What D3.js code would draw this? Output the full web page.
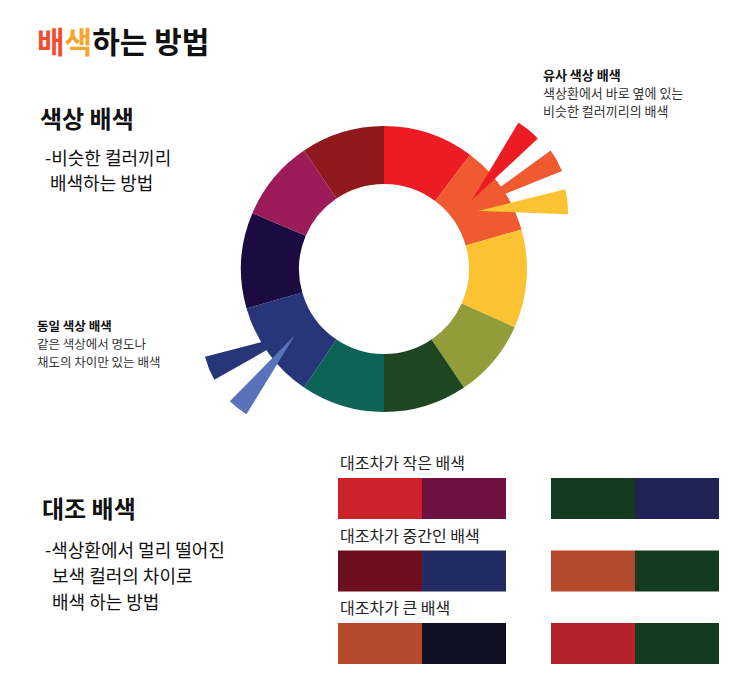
<!DOCTYPE html><html><head><meta charset="utf-8"><script src="https://cdn.jsdelivr.net/npm/d3@7"></script>
<style>body{margin:0;background:#fff}text{font-family:"Noto Sans CJK KR",sans-serif}</style></head><body><svg id="c" width="742" height="677"></svg>
<script>
const wheelSpans=[37,37,40,32,34,34,40,39,33,34];
const wheelColors=["#ED1C24","#F05A30","#FBC232","#929D3A","#1E4620","#0D6356","#263679","#1C0B40","#9B1C59","#8E1A1D"];
const wedgeAngles=[39,61,84,248,218];
const wedgeLengths=[90,96,90,95,93];
const wedgeWidths=[16,14,16,15,13];
const wedgeInner=[0,0,0,20,0];
const wedgeColors=["#ED1C24","#F05A30","#FBC232","#263679","#5A72BA"];
const wedgeTips=[[472,200],[473,207],[478,211],[297,333],[295,335]];
const rowLabels=["대조차가 작은 배색","대조차가 중간인 배색","대조차가 큰 배색"];
const pairColors=[[["#CC2229","#6F1140"],["#143A1F","#1F2355"]],[["#6B0F1E","#232B63"],["#B5492B","#143A1F"]],[["#B5492B","#110F22"],["#B4232B","#143A1F"]]];

const svg=d3.select("#c");
const rad=d3.scaleLinear().domain([0,360]).range([0,2*Math.PI]);
const pie=d3.pie().sort(null).value(d=>d)(wheelSpans);
const arc=d3.arc().innerRadius(85).outerRadius(143);
const g=svg.append("g").attr("transform","translate(384,269)");
g.selectAll("path").data(pie).join("path").attr("d",arc).attr("fill",(d,i)=>wheelColors[i]);
wedgeAngles.forEach((a,i)=>{
  const w=wedgeWidths[i];
  svg.append("path").attr("transform",`translate(${wedgeTips[i][0]},${wedgeTips[i][1]})`)
   .attr("d",d3.arc()({innerRadius:wedgeInner[i],outerRadius:wedgeLengths[i],startAngle:rad(a-w/2),endAngle:rad(a+w/2)}))
   .attr("fill",wedgeColors[i]);
});
function t(x,y,s,size,weight,fill){return svg.append("text").attr("x",x).attr("y",y).attr("font-size",size).attr("font-weight",weight||400).attr("fill",fill||"#111").text(s);}
const title=svg.append("text").attr("x",37).attr("y",53).attr("font-size",30).attr("font-weight",700);
title.append("tspan").attr("fill","#F04E2F").text("배");
title.append("tspan").attr("fill","#F7A531").text("색");
title.append("tspan").attr("fill","#111").text("하는 방법");
t(40,128,"색상 배색",24,700);
t(45,165,"-비슷한 컬러끼리",18);
t(50,190,"배색하는 방법",18);
t(543,80,"유사 색상 배색",13,700);
t(543,98,"색상환에서 바로 옆에 있는",13,400,"#333");
t(543,116,"비슷한 컬러끼리의 배색",13,400,"#333");
t(37,331,"동일 색상 배색",12.5,700);
t(37,349,"같은 색상에서 명도나",12.5,400,"#333");
t(37,367,"채도의 차이만 있는 배색",12.5,400,"#333");
t(42,518,"대조 배색",24,700);
t(45,557,"-색상환에서 멀리 떨어진",18);
t(52,583,"보색 컬러의 차이로",18);
t(52,609,"배색 하는 방법",18);
const rowY=d3.scalePoint().domain(d3.range(3)).range([478,623]);
const groupX=[338,551];
rowLabels.forEach((lab,r)=>{
  t(340,rowY(r)-9,lab,16,400,"#222");
  pairColors[r].forEach((pair,gi)=>{
    pair.forEach((c,k)=>svg.append("rect").attr("x",groupX[gi]+k*84).attr("y",rowY(r)).attr("width",84).attr("height",41).attr("fill",c));
  });
});
</script></body></html>
